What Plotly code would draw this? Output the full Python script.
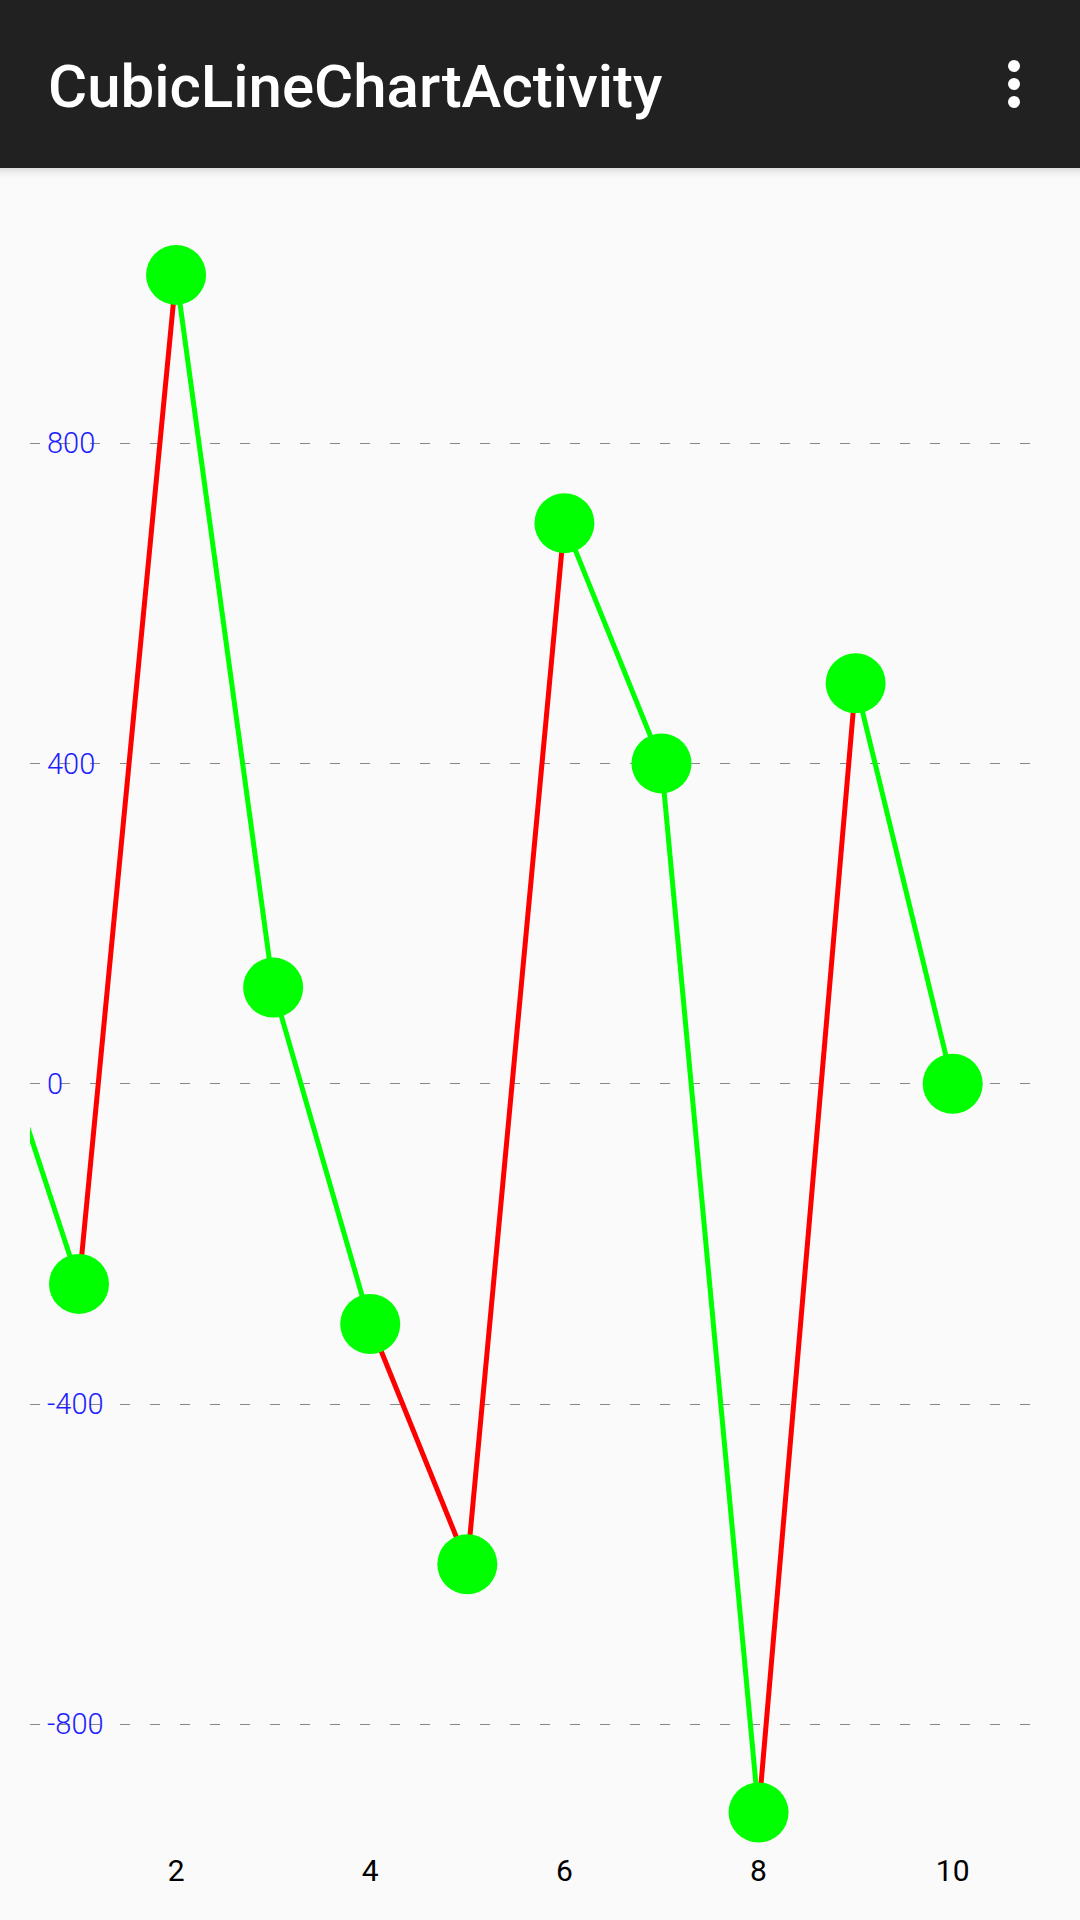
import plotly.graph_objects as go

# ---- data ----
x_values = [0, 1, 2, 3, 4, 5, 6, 7, 8, 9, 10]
y_values = [120, -250, 1010, 120, -300, -600, 700, 400, -910, 500, 0]
y_tick_values = [-800, -400, 0, 400, 800]
y_tick_labels = ["-800", "-400", "0", "400", "800"]
x_tick_values = [2, 4, 6, 8, 10]
x_tick_labels = ["2", "4", "6", "8", "10"]
title_text = "CubicLineChartActivity"

# ---- style ----
W, H = 1080, 1920
PL, PR, PT, PB = 30, 1030, 200, 1850  # plot area in pixels
POS_COLOR = "#00FF00"
NEG_COLOR = "#FF0000"

fig = go.Figure()

# line segments, colored by the sign of the starting value
for i in range(len(x_values) - 1):
    color = NEG_COLOR if y_values[i] < 0 else POS_COLOR
    fig.add_trace(go.Scatter(
        x=[x_values[i], x_values[i + 1]],
        y=[y_values[i], y_values[i + 1]],
        mode="lines",
        line=dict(color=color, width=5),
        hoverinfo="skip",
        showlegend=False,
    ))

# circles on top
fig.add_trace(go.Scatter(
    x=x_values, y=y_values, mode="markers",
    marker=dict(color=POS_COLOR, size=60, line=dict(width=0)),
    showlegend=False,
))

# axis ranges derived from pixel layout
px_per_x = 97.08
x0_px = 79.0
x_range = [1 + (PL - x0_px) / px_per_x, 1 + (PR - x0_px) / px_per_x]
px_per_y = 0.8008
zero_px = 1083.7
y_range = [(zero_px - PB) / px_per_y, (zero_px - PT) / px_per_y]

def px_to_paper_x(px):
    return (px - PL) / (PR - PL)

def py_to_paper_y(py):
    return (PB - py) / (PB - PT)

shapes = []
# header bar
shapes.append(dict(type="rect", xref="paper", yref="paper",
                   x0=px_to_paper_x(0), x1=px_to_paper_x(W),
                   y0=py_to_paper_y(168), y1=py_to_paper_y(0),
                   fillcolor="#212121", line=dict(width=0), layer="above"))
# shadow below header
for k, op in enumerate([0.10, 0.07, 0.045, 0.025, 0.01]):
    shapes.append(dict(type="rect", xref="paper", yref="paper",
                       x0=px_to_paper_x(0), x1=px_to_paper_x(W),
                       y0=py_to_paper_y(168 + 2 * (k + 1)), y1=py_to_paper_y(168 + 2 * k),
                       fillcolor="black", opacity=op, line=dict(width=0), layer="above"))
# overflow menu dots
for cy in [66, 84, 102]:
    r = 6
    shapes.append(dict(type="circle", xref="paper", yref="paper",
                       x0=px_to_paper_x(1014 - r), x1=px_to_paper_x(1014 + r),
                       y0=py_to_paper_y(cy + r), y1=py_to_paper_y(cy - r),
                       fillcolor="white", line=dict(width=0), layer="above"))

fig.update_layout(
    width=W, height=H,
    margin=dict(l=PL, r=W - PR, t=PT, b=H - PB, pad=0),
    paper_bgcolor="#FAFAFA",
    plot_bgcolor="#FAFAFA",
    showlegend=False,
    shapes=shapes,
    title=dict(text=title_text, xref="container", yref="container",
               x=48 / W, xanchor="left", y=1 - 85.7 / H, yanchor="middle",
               font=dict(family="Roboto", size=60, color="white", weight=500)),
    xaxis=dict(range=x_range, tickvals=x_tick_values, ticktext=x_tick_labels,
               showgrid=False, zeroline=False, showline=False, ticks="",
               tickfont=dict(family="Roboto", size=30, color="#000000"),
               fixedrange=True),
    yaxis=dict(range=y_range, tickvals=y_tick_values, ticktext=y_tick_labels,
               showgrid=True, gridcolor="#888888", gridwidth=1.2,
               griddash="10px,20px",
               zeroline=False, showline=False, ticks="",
               ticklabelposition="inside", ticklabelstandoff=14,
               tickfont=dict(family="Roboto", size=29, color="#1E1EFF", weight=300),
               fixedrange=True),
)

fig.write_html("out.html", config={"displayModeBar": False},
               post_script="document.body.style.margin='0';document.body.style.overflow='hidden';")
